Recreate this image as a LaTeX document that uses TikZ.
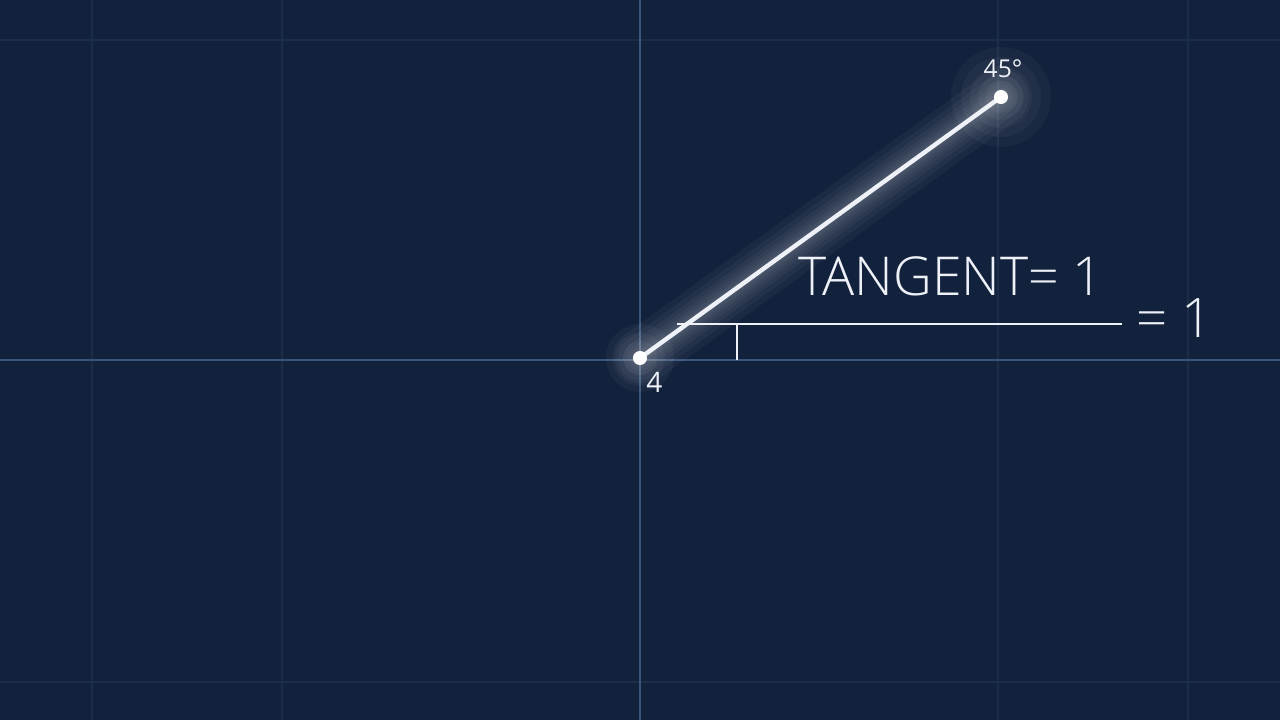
\documentclass[tikz,border=0pt]{standalone}
\usepackage{fontspec}
\setmainfont{Open Sans Light}
\newfontfamily\regfont{Open Sans}
\definecolor{bg}{RGB}{18,33,60}
\definecolor{gridc}{RGB}{28,45,74}
\definecolor{axisc}{RGB}{60,86,122}
\definecolor{ink}{RGB}{238,242,248}
\begin{document}
\begin{tikzpicture}[x=0.02cm,y=-0.02cm,
  gridline/.style={draw=gridc,line width=1.5pt},
  axisline/.style={draw=axisc,line width=1.4pt},
  mainline/.style={draw=ink,line width=2.5pt,line cap=round},
  thinline/.style={draw=ink,line width=1.3pt},
  glow/.style={draw=white,line cap=round,opacity=0.04},
  dot/.style={circle,fill=white,inner sep=0pt,minimum size=8pt},
  lbl/.style={text=ink,inner sep=0pt}]
\fill[bg] (0,0) rectangle (1280,720);
\useasboundingbox (0,0) rectangle (1280,720);
% grid
\foreach \gx in {92,282,998,1188} \draw[gridline] (\gx,0) -- (\gx,720);
\foreach \gy in {40,682} \draw[gridline] (0,\gy) -- (1280,\gy);
% axes
\draw[axisline] (0,360) -- (1280,360);
\draw[axisline] (640,0) -- (640,720);
% points
\coordinate (O) at (640,358);
\coordinate (P) at (1001,97);
% glow
\foreach \w in {56,44,34,26,19,13,8} \draw[glow,line width=\w*0.567pt] (O) -- (P);
\foreach \r in {50,40,31,23,16} \fill[white,opacity=0.035] (P) circle (\r);
\foreach \r in {34,25,17} \fill[white,opacity=0.04] (O) circle (\r);
% main segment
\draw[mainline] (O) -- (P);
\node[dot] (Od) at (O) {};
\node[dot] (Pd) at (P) {};
% horizontal reference line and tick
\coordinate (H1) at (677,324);
\coordinate (H2) at (1122,324);
\coordinate (T1) at (737,324);
\coordinate (T2) at (737,360);
\draw[thinline] (H1) -- (H2);
\draw[thinline] (T1) -- (T2);
% labels
\node[lbl,anchor=base west,font=\fontsize{30.5}{36}\selectfont] (tan) at (798,295) {TANGENT= 1};
\node[lbl,anchor=base west,font=\fontsize{31}{36}\selectfont] (eq) at (1136,337) {= 1};
\node[lbl,anchor=base west,font=\regfont\fontsize{16}{18}\selectfont] (four) at (646,392) {4};
\node[lbl,anchor=base,font=\regfont\fontsize{14}{16}\selectfont] (ang) at (1003,77) {45°};
\end{tikzpicture}
\end{document}
